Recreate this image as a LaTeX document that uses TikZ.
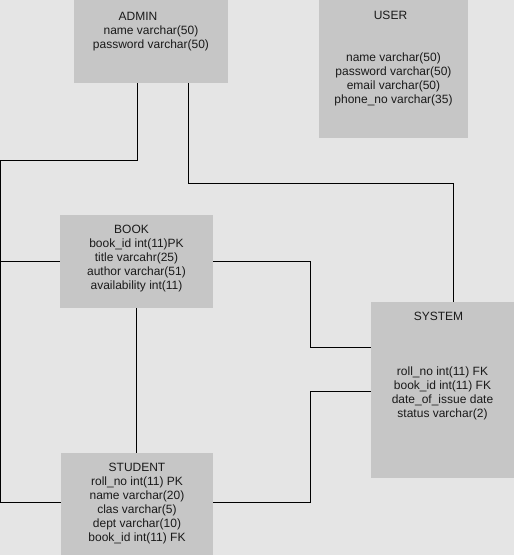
\documentclass[tikz,border=0pt]{standalone}
\usepackage{fontspec}
\setmainfont{Liberation Sans}
\usetikzlibrary{positioning}

\definecolor{canvas}{HTML}{E5E5E5}
\definecolor{boxgray}{HTML}{C6C6C6}
\definecolor{ink}{HTML}{1A1A1A}

\begin{document}
\begin{tikzpicture}[
    x = 1pt, y = -1pt,
    entity/.style = {rectangle, fill=boxgray, inner sep=0pt},
    fields/.style = {align=center, inner sep=0pt, text=ink,
                     font=\fontsize{12}{14}\selectfont},
    link/.style   = {draw=black, line width=1pt},
]

\fill[canvas] (0,0) rectangle (514,555);
\useasboundingbox (0,0) rectangle (514,555);

% entities
\node[entity, minimum width=154pt, minimum height=83pt]  (admin)   at (151,41.5)  {};
\node[entity, minimum width=149pt, minimum height=138pt] (user)    at (393.5,69)  {};
\node[entity, minimum width=153pt, minimum height=93pt]  (book)    at (136.5,261.5) {};
\node[entity, minimum width=143pt, minimum height=176pt] (system)  at (442.5,390) {};
\node[entity, minimum width=152pt, minimum height=102pt] (student) at (137,504)   {};

% attributes
\node[fields, below=10.5pt of admin.north]   (admin-f)
    {\strut ADMIN\hspace*{26pt}\\name varchar(50)\\password varchar(50)};
\node[fields, below=10pt of user.north]      (user-f)
    {\strut USER\hspace*{6pt}\\[28pt]name varchar(50)\\password varchar(50)\\email varchar(50)\\phone\_no varchar(35)};
\node[fields, below=9pt of book.north]       (book-f)
    {\strut BOOK\hspace*{10pt}\\book\_id int(11)PK\\title varcahr(25)\\author varchar(51)\\availability int(11)};
\node[fields, below=9pt of system.north]     (system-f)
    {\strut SYSTEM\hspace*{8pt}\\[41pt]roll\_no int(11) FK\\book\_id int(11) FK\\date\_of\_issue date\\status varchar(2)};
\node[fields, below=9pt of student.north]    (student-f)
    {\strut STUDENT\\roll\_no int(11) PK\\name varchar(20)\\clas varchar(5)\\dept varchar(10)\\book\_id int(11) FK};

% relations
\coordinate (rail) at (0.6,160);
\draw[link] ([xshift=-14pt]admin.south) |- (rail) |- ([yshift=2pt]student.west);
\draw[link] (book.west) -- (book.west -| rail);
\draw[link] ([xshift=37pt]admin.south) -- ++(0,100) -| ([xshift=10.5pt]system.north);
\draw[link] (book.east) -- ++(97,0) |- ([yshift=43pt]system.west);
\draw[link] ([yshift=2pt]student.east) -- ++(97,0) |- ([yshift=-1pt]system.west);
\draw[link] (book.south) -- (book.south |- student.north);

\end{tikzpicture}
\end{document}
